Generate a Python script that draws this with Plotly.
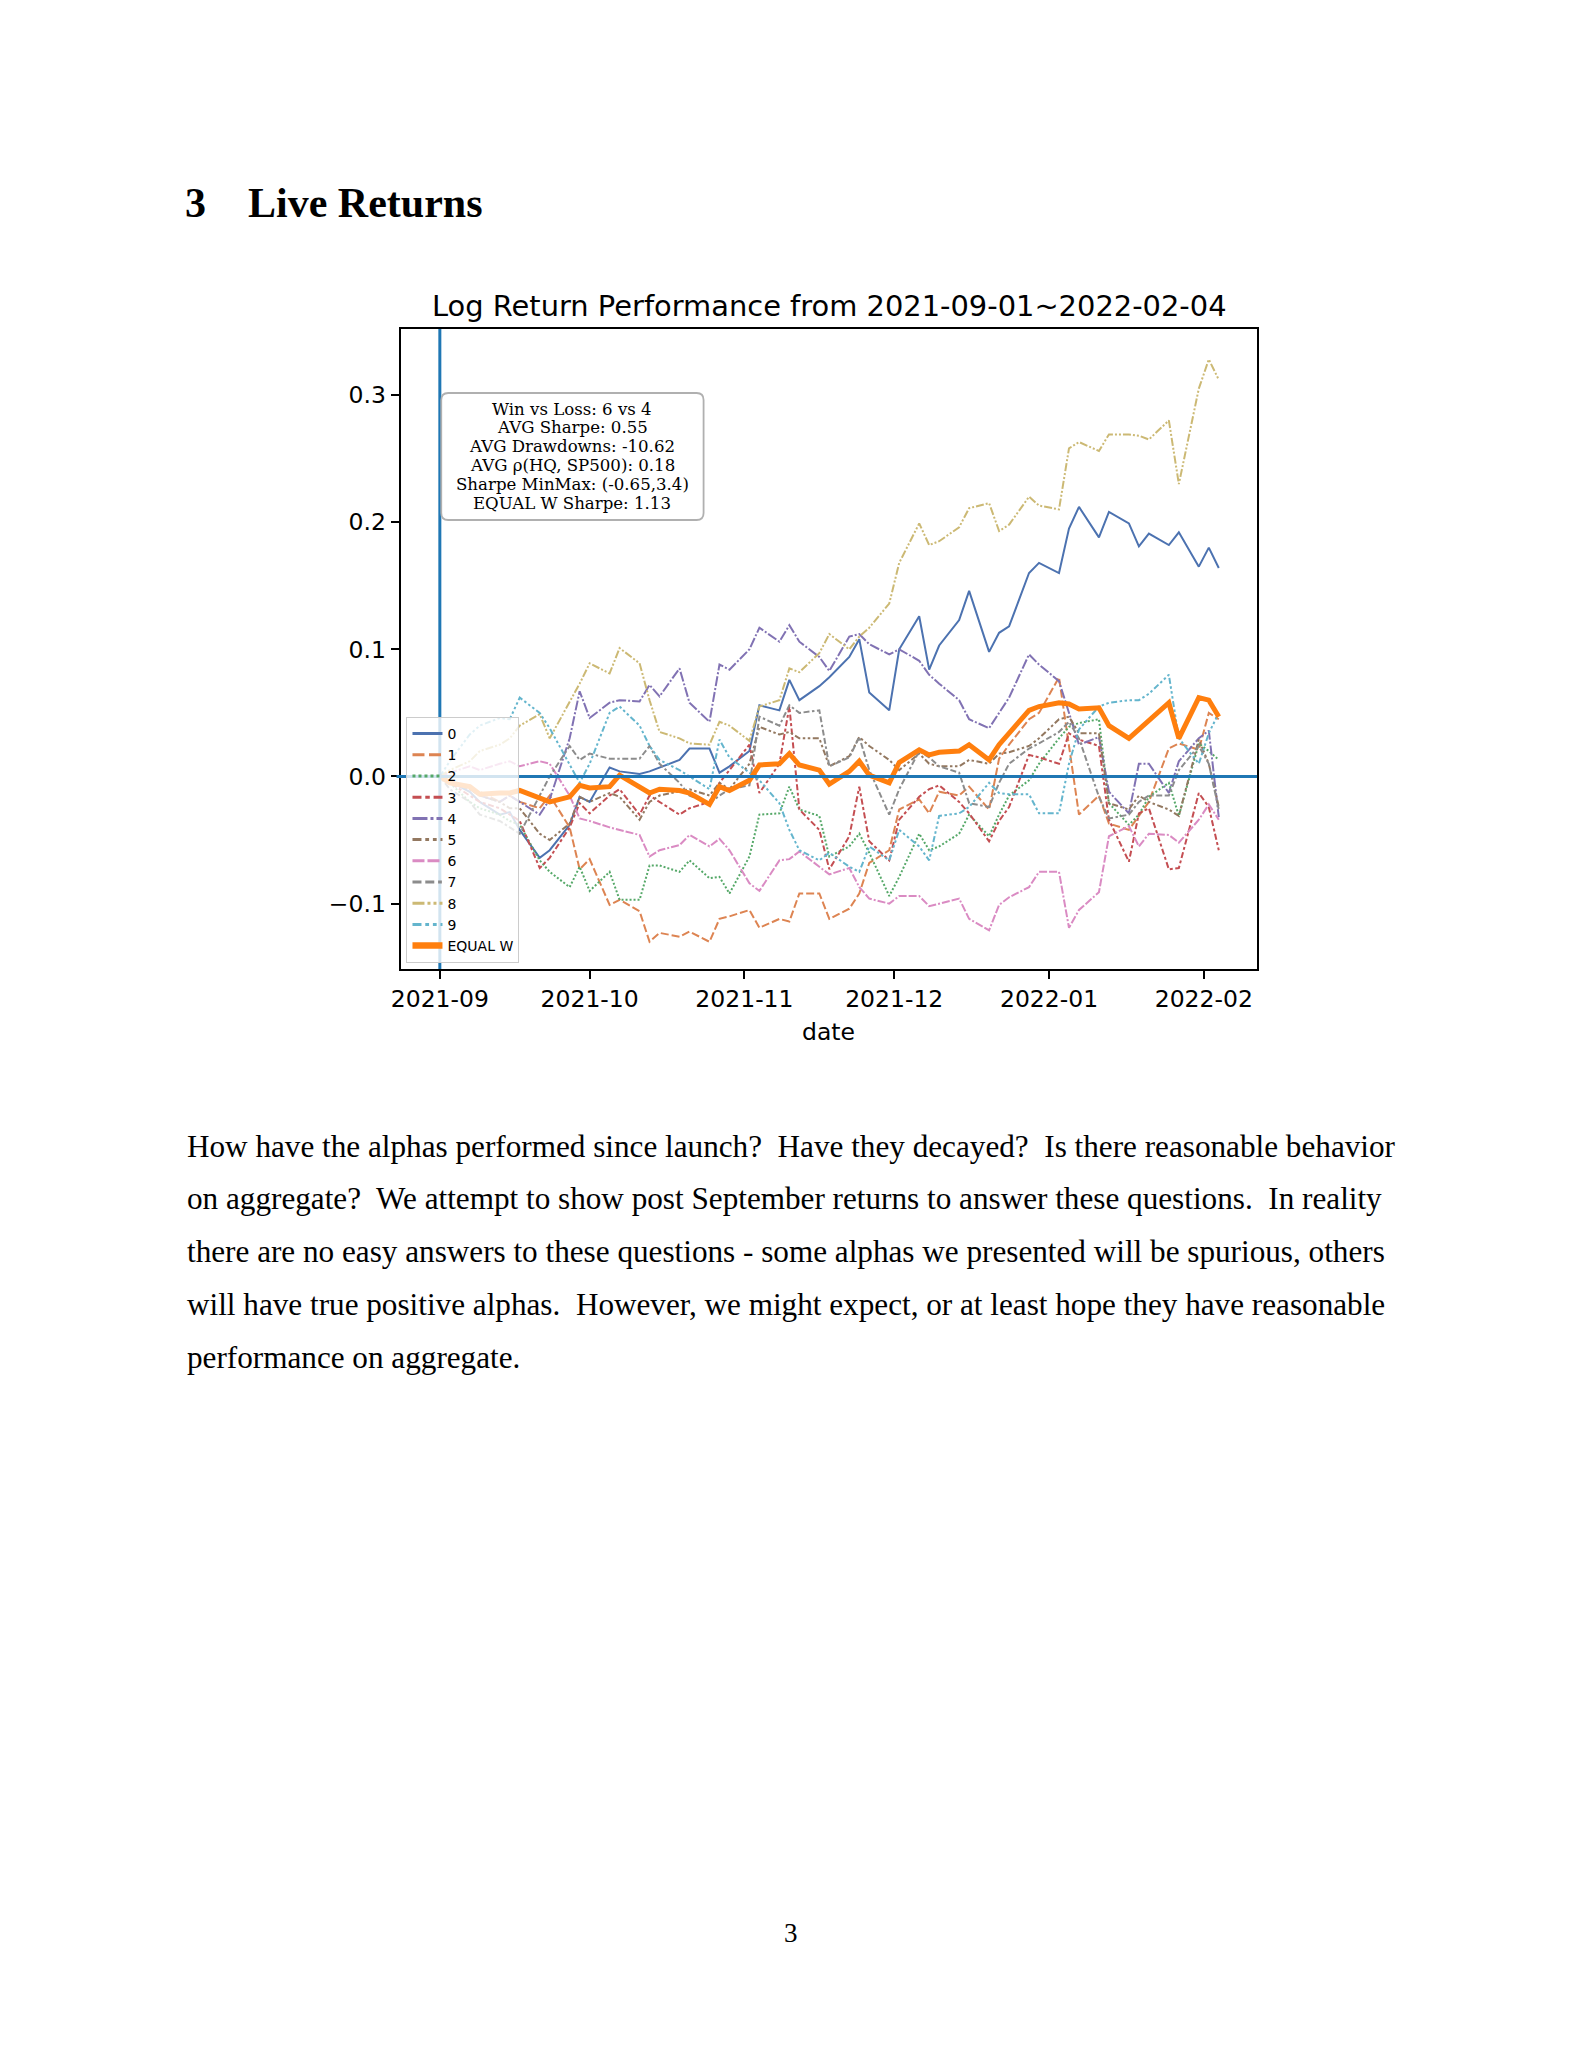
import pandas as pd
import plotly.graph_objects as go

# ---------------- data ----------------
DATES = pd.bdate_range("2021-09-01", "2022-02-04")[::2]
LAUNCH = "2021-09-01"

SERIES_NAMES = ["0", "1", "2", "3", "4", "5", "6", "7", "8", "9"]

s0 = [0.000, -0.004, -0.012, -0.020, -0.030, -0.028, -0.042,
      -0.064, -0.058, -0.038, -0.016, -0.020,
      0.007, 0.004, 0.002, 0.004, 0.007,
      0.013, 0.022, 0.022, 0.003, 0.008,
      0.020, 0.056, 0.052, 0.076, 0.060,
      0.071, 0.078, 0.094, 0.108, 0.066,
      0.052, 0.100, 0.126, 0.084, 0.103,
      0.123, 0.146, 0.098, 0.113, 0.118,
      0.160, 0.168, 0.160, 0.195, 0.212,
      0.188, 0.208, 0.199, 0.181, 0.191,
      0.182, 0.192, 0.165, 0.180, 0.164]
s1 = [0.000, -0.003, -0.010, -0.012, -0.020, -0.015, -0.020,
      -0.025, -0.015, -0.040, -0.073, -0.065,
      -0.101, -0.097, -0.106, -0.130, -0.123,
      -0.126, -0.122, -0.130, -0.112, -0.110,
      -0.105, -0.119, -0.112, -0.114, -0.092,
      -0.092, -0.112, -0.104, -0.092, -0.068,
      -0.058, -0.026, -0.018, -0.029, -0.012,
      -0.015, -0.008, -0.026, 0.014, 0.025,
      0.045, 0.050, 0.078, 0.026, -0.030,
      -0.015, -0.037, -0.042, -0.031, -0.020,
      0.022, 0.026, 0.021, 0.050, 0.045]
s2 = [0.000, -0.005, -0.020, -0.025, -0.030, -0.035, -0.038,
      -0.066, -0.075, -0.087, -0.071, -0.090,
      -0.075, -0.097, -0.097, -0.070, -0.070,
      -0.075, -0.066, -0.080, -0.079, -0.092,
      -0.063, -0.030, -0.029, -0.008, -0.026,
      -0.031, -0.063, -0.055, -0.045, -0.060,
      -0.094, -0.079, -0.045, -0.058, -0.055,
      -0.045, -0.030, -0.047, -0.030, -0.015,
      -0.003, 0.010, 0.030, 0.039, 0.042,
      0.045, -0.021, -0.038, -0.030, -0.016,
      -0.005, -0.031, 0.026, 0.020, 0.013]
s3 = [0.000, -0.005, -0.015, -0.020, -0.025, -0.030, -0.035,
      -0.072, -0.064, -0.040, -0.021, -0.029,
      -0.015, -0.010, -0.030, -0.015, -0.020,
      -0.030, -0.025, -0.020, -0.005, 0.005,
      0.025, -0.013, 0.010, 0.055, -0.026,
      -0.042, -0.073, -0.047, -0.008, -0.051,
      -0.066, -0.034, -0.016, -0.010, -0.007,
      -0.020, -0.029, -0.051, -0.035, -0.024,
      0.017, 0.015, 0.010, 0.034, 0.029,
      0.024, -0.034, -0.067, -0.029, -0.025,
      -0.073, -0.072, -0.013, -0.024, -0.058]
s4 = [0.000, -0.005, -0.010, -0.015, -0.020, -0.015, -0.020,
      -0.030, -0.018, 0.030, 0.067, 0.046,
      0.058, 0.060, 0.059, 0.072, 0.063,
      0.085, 0.058, 0.043, 0.088, 0.084,
      0.100, 0.117, 0.106, 0.119, 0.106,
      0.094, 0.083, 0.110, 0.112, 0.104,
      0.096, 0.100, 0.091, 0.080, 0.073,
      0.060, 0.045, 0.038, 0.050, 0.062,
      0.096, 0.088, 0.075, 0.050, 0.025,
      0.031, -0.012, -0.029, 0.010, 0.010,
      -0.013, 0.012, 0.030, 0.036, -0.032]
s5 = [0.000, -0.005, -0.010, -0.015, -0.020, -0.025, -0.025,
      -0.045, -0.050, -0.037, -0.016, -0.020,
      -0.013, -0.016, -0.034, -0.020, -0.015,
      -0.012, -0.010, -0.015, -0.005, -0.010,
      0.010, 0.039, 0.033, 0.035, 0.030,
      0.030, 0.008, 0.016, 0.031, 0.024,
      0.013, 0.005, 0.018, 0.010, 0.008,
      0.008, 0.013, 0.010, 0.018, 0.019,
      0.024, 0.030, 0.045, 0.047, 0.034,
      0.034, -0.021, -0.026, -0.015, -0.020,
      -0.026, -0.031, 0.029, 0.010, -0.024]
s6 = [0.000, 0.003, 0.008, 0.005, 0.010, 0.012, 0.008,
      0.012, 0.010, -0.015, -0.033, -0.035,
      -0.040, -0.042, -0.046, -0.063, -0.058,
      -0.054, -0.046, -0.055, -0.049, -0.058,
      -0.084, -0.090, -0.066, -0.065, -0.059,
      -0.071, -0.077, -0.072, -0.087, -0.096,
      -0.100, -0.094, -0.094, -0.102, -0.100,
      -0.096, -0.112, -0.121, -0.101, -0.095,
      -0.087, -0.075, -0.075, -0.119, -0.105,
      -0.091, -0.047, -0.039, -0.055, -0.045,
      -0.046, -0.052, -0.034, -0.022, -0.034]
s7 = [0.000, -0.010, -0.020, -0.030, -0.035, -0.040, -0.045,
      -0.015, 0.000, 0.024, 0.013, 0.018,
      0.014, 0.014, 0.014, 0.024, 0.010,
      -0.005, -0.015, -0.021, -0.015, -0.010,
      -0.007, 0.047, 0.040, 0.056, 0.050,
      0.052, 0.008, 0.015, 0.031, 0.005,
      -0.030, -0.010, 0.020, 0.015, 0.008,
      0.003, -0.021, -0.024, -0.005, 0.010,
      0.022, 0.026, 0.035, 0.043, 0.030,
      -0.016, -0.033, -0.030, -0.020, -0.015,
      -0.015, 0.005, 0.024, 0.010, -0.026]
s8 = [0.000, 0.005, 0.012, 0.020, 0.025, 0.030, 0.040,
      0.049, 0.030, 0.058, 0.073, 0.089,
      0.081, 0.101, 0.089, 0.060, 0.035,
      0.030, 0.026, 0.025, 0.043, 0.040,
      0.028, 0.055, 0.060, 0.085, 0.082,
      0.097, 0.112, 0.100, 0.110, 0.117,
      0.136, 0.168, 0.199, 0.182, 0.185,
      0.196, 0.211, 0.215, 0.193, 0.198,
      0.220, 0.213, 0.210, 0.258, 0.263,
      0.256, 0.269, 0.269, 0.268, 0.265,
      0.280, 0.230, 0.305, 0.328, 0.312]
s9 = [0.000, 0.012, 0.033, 0.040, 0.046, 0.045, 0.062,
      0.050, 0.038, 0.010, -0.005, 0.010,
      0.050, 0.055, 0.040, 0.024, 0.013,
      0.005, 0.000, -0.010, 0.029, 0.015,
      0.003, -0.003, -0.021, -0.042, -0.058,
      -0.066, -0.060, -0.071, -0.075, -0.055,
      -0.066, -0.042, -0.055, -0.066, -0.031,
      -0.029, -0.024, -0.005, -0.013, -0.014,
      -0.014, -0.029, -0.029, 0.010, 0.037,
      0.055, 0.058, 0.060, 0.060, 0.065,
      0.080, 0.030, 0.010, 0.034, 0.050]
equal_w = [0.000, -0.005, -0.008, -0.014, -0.013, -0.013, -0.011,
           -0.017, -0.020, -0.016, -0.007, -0.009,
           -0.008, 0.001, -0.008, -0.013, -0.010,
           -0.011, -0.013, -0.022, -0.008, -0.011,
           -0.003, 0.009, 0.010, 0.018, 0.009,
           0.005, -0.006, 0.004, 0.012, 0.001,
           -0.005, 0.011, 0.021, 0.017, 0.019,
           0.020, 0.025, 0.013, 0.025, 0.034,
           0.052, 0.055, 0.058, 0.057, 0.053,
           0.054, 0.040, 0.030, 0.037, 0.044,
           0.058, 0.030, 0.062, 0.060, 0.047]

MONTH_TICKS = ["2021-09-01", "2021-10-01", "2021-11-01", "2021-12-01", "2022-01-01", "2022-02-01"]
MONTH_LABELS = ["2021-09", "2021-10", "2021-11", "2021-12", "2022-01", "2022-02"]
Y_TICKS = [-0.1, 0.0, 0.1, 0.2, 0.3]

TITLE = "Log Return Performance from 2021-09-01~2022-02-04"
STATS_LINES = ["Win vs Loss: 6 vs 4", "AVG Sharpe: 0.55", "AVG Drawdowns: -10.62",
               "AVG \u03c1(HQ, SP500): 0.18", "Sharpe MinMax: (-0.65,3.4)", "EQUAL W Sharpe: 1.13"]
PARAGRAPH = [
    "How have the alphas performed since launch?  Have they decayed?  Is there reasonable behavior",
    "on aggregate?  We attempt to show post September returns to answer these questions.  In reality",
    "there are no easy answers to these questions - some alphas we presented will be spurious, others",
    "will have true positive alphas.  However, we might expect, or at least hope they have reasonable",
    "performance on aggregate.",
]

ALL_SERIES = [s0, s1, s2, s3, s4, s5, s6, s7, s8, s9]
for s in ALL_SERIES + [equal_w]:
    assert len(s) == len(DATES), len(s)

# ---------------- styling ----------------
W, H = 1583, 2048
DX = -5  # horizontal calibration of page elements (px)
COLORS = ["#4c72b0", "#dd8452", "#55a868", "#c44e52", "#8172b3",
          "#937860", "#da8bc3", "#8c8c8c", "#ccb974", "#64b5cd"]
# seaborn style dash specs (in units of line width)
DASH_UNITS = [None, (4, 1.5), (1, 1), (3, 1.25, 1.5, 1.25), (5, 1, 1, 1),
              (3, 1.25, 1.25, 1.25, 1.25, 1.25), (4, 1, 4, 1, 1, 1),
              (3, 1.25, 3, 1.25, 1.25, 1.25), (4, 1, 1, 1, 1, 1),
              (3, 1.25, 1.25, 1.25, 1.25, 1.25, 1.25, 1.25)]
LW_PLOT, LW_LEG = 2.0, 3.0


def dash_str(units, lw):
    if units is None:
        return "solid"
    return ",".join(f"{u * lw:.1f}px" for u in units)


def px(x):
    return (x + DX) / W


def py(y):
    return 1 - y / H


def rounded_box(x0, y0, x1, y1, r):
    """SVG path (paper coords) of a rounded rectangle given in page pixels."""
    pts = [
        ("M", x0 + r, y0), ("L", x1 - r, y0), ("Q", x1, y0, x1, y0 + r),
        ("L", x1, y1 - r), ("Q", x1, y1, x1 - r, y1), ("L", x0 + r, y1),
        ("Q", x0, y1, x0, y1 - r), ("L", x0, y0 + r), ("Q", x0, y0, x0 + r, y0),
    ]
    out = []
    for p in pts:
        cmd, vals = p[0], p[1:]
        coords = []
        for k in range(0, len(vals), 2):
            coords.append(f"{px(vals[k]):.5f},{py(vals[k + 1]):.5f}")
        out.append(cmd + " ".join(coords))
    return " ".join(out) + " Z"


fig = go.Figure()
for name, vals, col, du in zip(SERIES_NAMES, ALL_SERIES, COLORS, DASH_UNITS):
    fig.add_trace(go.Scatter(x=DATES, y=vals, mode="lines", name=name, showlegend=False,
                             line=dict(color=col, width=LW_PLOT, dash=dash_str(du, LW_PLOT))))
fig.add_trace(go.Scatter(x=DATES, y=equal_w, mode="lines", name="EQUAL W", showlegend=False,
                         line=dict(color="#ff7f0e", width=5)))
# legend entries (thicker sample lines, as in the original legend)
for name, col, du in zip(SERIES_NAMES, COLORS, DASH_UNITS):
    fig.add_trace(go.Scatter(x=[None], y=[None], mode="lines", name=name,
                             line=dict(color=col, width=LW_LEG, dash=dash_str(du, LW_LEG))))
fig.add_trace(go.Scatter(x=[None], y=[None], mode="lines", name="EQUAL W",
                         line=dict(color="#ff7f0e", width=6.5)))

# reference lines (launch date and zero return)
fig.add_shape(type="line", xref="paper", yref="y", x0=px(394), x1=px(1260), y0=0, y1=0,
              line=dict(color="#1f77b4", width=3), layer="above")
fig.add_shape(type="line", xref="x", yref="paper", x0=LAUNCH, x1=LAUNCH, y0=py(969), y1=py(329),
              line=dict(color="#1f77b4", width=3), layer="above")
# stats box frame
fig.add_shape(type="path", xref="paper", yref="paper", path=rounded_box(439, 393, 703, 520, 7),
              fillcolor="white", line=dict(color="#b0b0b0", width=1.8), layer="above")

axis_font = dict(family="DejaVu Sans", size=23.5, color="black")
fig.update_layout(
    width=W, height=H, autosize=False,
    margin=dict(l=0, r=0, t=0, b=0),
    paper_bgcolor="white", plot_bgcolor="white",
    showlegend=True,
    legend=dict(x=px(404), y=py(963), xanchor="left", yanchor="bottom",
                bgcolor="rgba(255,255,255,0.8)", bordercolor="#cccccc", borderwidth=1,
                font=dict(family="DejaVu Sans", size=14, color="black"),
                tracegroupgap=0, itemwidth=30),
    xaxis=dict(domain=[px(398), px(1260)], type="date",
               range=["2021-08-24 03:00", "2022-02-11 16:00"],
               tickmode="array", tickvals=MONTH_TICKS, ticktext=MONTH_LABELS,
               ticks="outside", ticklen=8, tickwidth=1.6, tickcolor="black",
               showline=True, linecolor="black", linewidth=1.8, mirror=True,
               showgrid=False, zeroline=False, tickfont=axis_font),
    yaxis=dict(domain=[py(969), py(329)], range=[-0.1514, 0.3519],
               tickmode="array", tickvals=Y_TICKS, tickformat=".1f",
               ticks="outside", ticklen=8, tickwidth=1.6, tickcolor="black",
               showline=True, linecolor="black", linewidth=1.8, mirror=True,
               showgrid=False, zeroline=False, tickfont=axis_font),
)

ann = []
# chart title and x label
ann.append(dict(text=TITLE, x=px(830), y=py(306), xref="paper", yref="paper",
                xanchor="center", yanchor="middle", showarrow=False,
                font=dict(family="DejaVu Sans", size=28.9, color="black")))
ann.append(dict(text="date", x=px(829), y=py(1032), xref="paper", yref="paper",
                xanchor="center", yanchor="middle", showarrow=False, font=axis_font))
# stats box text, one line each
for i, line in enumerate(STATS_LINES):
    ann.append(dict(text=line, x=px(571), y=py(409 + 18.8 * i), xref="paper", yref="paper",
                    xanchor="center", yanchor="middle", showarrow=False,
                    font=dict(family="DejaVu Serif", size=16.6, color="black")))
# section heading
ann.append(dict(text="<b>3</b>", x=px(179), y=py(203), xref="paper", yref="paper",
                xanchor="left", yanchor="middle", showarrow=False,
                font=dict(family="Liberation Serif", size=42, color="black")))
ann.append(dict(text="<b>Live Returns</b>", x=px(243), y=py(203), xref="paper", yref="paper",
                xanchor="left", yanchor="middle", showarrow=False,
                font=dict(family="Liberation Serif", size=42, color="black")))
# body paragraph
for i, line in enumerate(PARAGRAPH):
    ann.append(dict(text=line.replace("  ", "&nbsp; "), x=px(181), y=py(1146 + 52.8 * i),
                    xref="paper", yref="paper", xanchor="left", yanchor="middle",
                    showarrow=False,
                    font=dict(family="Liberation Serif", size=31.2, color="black")))
# page number
ann.append(dict(text="3", x=px(791), y=py(1933), xref="paper", yref="paper",
                xanchor="center", yanchor="middle", showarrow=False,
                font=dict(family="Liberation Serif", size=27, color="black")))
fig.update_layout(annotations=ann)

fig.write_html(
    "out.html",
    config={"displayModeBar": False},
    post_script=("document.documentElement.style.margin='0';"
                 "document.body.style.margin='0';document.body.style.padding='0';"
                 "document.body.style.overflow='hidden';"
                 "var gd=document.getElementById('{plot_id}');"
                 "gd.style.position='absolute';gd.style.left='0px';gd.style.top='0px';"),
)
